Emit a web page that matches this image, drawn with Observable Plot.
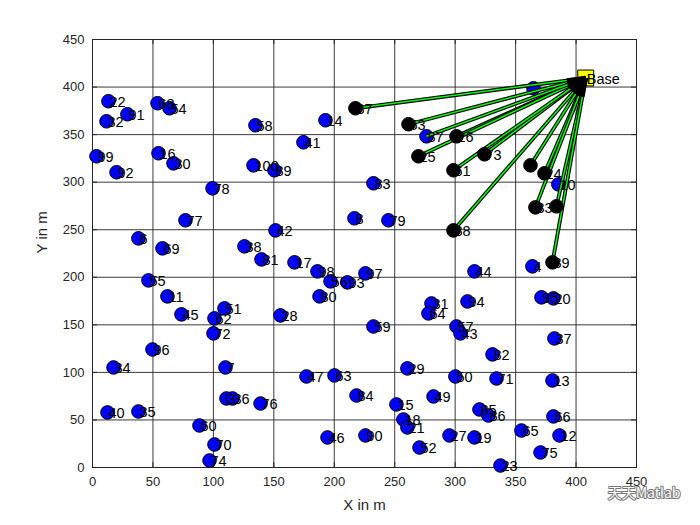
<!DOCTYPE html>
<html><head><meta charset="utf-8">
<script src="https://cdn.jsdelivr.net/npm/d3@7"></script>
<script src="https://cdn.jsdelivr.net/npm/@observablehq/plot@0.6"></script>
<style>html,body{margin:0;padding:0;background:#fff;overflow:hidden}</style>
</head><body><div id="chart"></div>
<script>
const xTicks = [0, 50, 100, 150, 200, 250, 300, 350, 400, 450];
const yTicks = [0, 50, 100, 150, 200, 250, 300, 350, 400, 450];
const xTitle = ["X in m"];
const yTitle = ["Y in m"];
const watermark = ["天天Matlab"];

// ordinary sensor nodes (blue)
const nodeLabel = ["22","32","91","68","54","99","92","16","30","78",
  "58","14","41","100","89","83","77","6","69","38",
  "42","8","79","81","17","98","56","93","97","80",
  "28","55","11","45","51","62","72","96","34","7",
  "3","36","76","40","35","60","70","74","47","63",
  "84","46","90","29","15","18","21","52","49","59",
  "31","64","94","44","4","57","43","82","50","71",
  "95","20","37","13","66","12","75","65","23","19",
  "27","85","86","10","","87"];
const nodeX = [13.2,11.6,28.9,53.8,63.7,3.3,19.9,54.6,67.0,99.3,
  134.8,192.7,174.5,133.2,150.5,232.4,76.9,38.0,57.9,125.7,
  151.4,216.7,244.8,139.8,167.1,186.1,196.9,210.9,225.8,187.8,
  155.5,46.3,62.0,73.6,109.2,100.9,100.1,49.6,17.4,110.0,
  110.8,115.8,139.0,12.4,38.0,88.5,100.9,96.8,177.0,200.2,
  218.4,194.4,225.8,260.5,251.4,257.2,260.5,270.5,282.1,232.4,
  280.4,277.9,310.2,316.0,363.9,301.1,304.4,330.9,300.2,334.2,
  371.4,381.3,382.1,380.5,381.3,386.3,370.6,354.8,337.5,316.0,
  295.3,320.1,327.5,385.4,364.8,276.3];
const nodeY = [385.1,364.0,371.4,383.0,377.7,327.2,310.4,330.4,319.8,293.5,
  359.8,365.1,341.9,317.7,312.5,298.8,259.9,240.9,230.4,232.5,
  249.3,262.0,259.9,218.8,215.7,206.2,195.7,194.6,204.1,179.9,
  159.9,196.7,179.9,161.0,167.3,156.8,141.0,124.1,105.2,105.2,
  72.6,72.6,67.3,57.9,58.9,44.2,24.2,7.4,95.7,96.8,
  75.7,31.6,33.7,104.2,66.3,50.5,42.1,21.0,74.7,148.3,
  172.5,162.0,174.6,206.2,211.5,148.3,141.0,118.9,95.7,93.6,
  178.9,177.8,135.7,91.5,53.7,33.7,15.8,38.9,2.1,31.6,
  33.7,61.0,54.7,297.7,398.7,348.2];
const linkedNodeLabels = ["87"];

// cluster heads (black)
const headLabel = ["37","53","26","25","73","61","88","","24","33","","39"];
const headX = [217.5,261.4,301.1,269.6,324.2,298.6,298.6,362.3,373.9,366.4,383.8,380.5];
const headY = [377.7,360.9,348.2,327.2,329.3,312.5,249.3,317.7,309.3,273.5,274.6,215.7];

// base station
const baseLabel = ["Base"];
const baseX = [408];
const baseY = [409.5];

const nodes = nodeX.map((x, i) => ({x, y: nodeY[i], label: nodeLabel[i]}));
const heads = headX.map((x, i) => ({x, y: headY[i], label: headLabel[i]}));
const base = baseX.map((x, i) => ({x, y: baseY[i], label: baseLabel[i]}));
const linkSources = heads.concat(nodes.filter(d => linkedNodeLabels.includes(d.label)));

const W = 700, H = 525, mL = 92, mR = 64, mT = 39, mB = 58;
const innerW = W - mL - mR, innerH = H - mT - mB;
const tickLen = 5;
const ink = "#262626";
const font = "Liberation Sans, Arial, Helvetica, sans-serif";

const linkMarks = linkSources.flatMap(s => [
  Plot.link([s], {x1: "x", y1: "y", x2: () => base[0].x, y2: () => base[0].y, stroke: "black", strokeWidth: 3.8}),
  Plot.link([s], {x1: "x", y1: "y", x2: () => base[0].x, y2: () => base[0].y, stroke: "#00ff00", strokeWidth: 1.5})
]);

// dark overlap of the thick outlines where all links converge on the base
const pxPerX = innerW / 450, pxPerY = innerH / 450, fanPx = 19;
const fan = linkSources.map(s => {
  const b = base[0];
  const len = Math.hypot((s.x - b.x) * pxPerX, (s.y - b.y) * pxPerY);
  const t = fanPx / len;
  return {x1: b.x, y1: b.y, x2: b.x + t * (s.x - b.x), y2: b.y + t * (s.y - b.y)};
});

const chart = Plot.plot({
  width: W, height: H,
  marginLeft: mL, marginRight: mR, marginTop: mT, marginBottom: mB,
  style: {fontFamily: font, fontSize: "13px", background: "white", overflow: "visible"},
  x: {domain: [0, 450], label: null},
  y: {domain: [0, 450], label: null},
  marks: [
    Plot.gridX(xTicks, {stroke: ink, strokeOpacity: 0.9, strokeWidth: 1}),
    Plot.gridY(yTicks, {stroke: ink, strokeOpacity: 0.9, strokeWidth: 1}),
    Plot.tickX(xTicks, {x: d => d, stroke: ink, insetTop: innerH - tickLen}),
    Plot.tickX(xTicks, {x: d => d, stroke: ink, insetBottom: innerH - tickLen}),
    Plot.tickY(yTicks, {y: d => d, stroke: ink, insetRight: innerW - tickLen}),
    Plot.tickY(yTicks, {y: d => d, stroke: ink, insetLeft: innerW - tickLen}),
    Plot.frame({stroke: ink, strokeWidth: 1}),
    Plot.axisX(xTicks, {tickSize: 0, tickPadding: 9, fontSize: 13, fill: ink, label: null}),
    Plot.axisY(yTicks, {tickSize: 0, tickPadding: 8, fontSize: 13, fill: ink, label: null}),
    Plot.text(xTitle, {text: d => d, frameAnchor: "bottom", dy: 42, fontSize: 15, fill: ink}),
    Plot.text(yTitle, {text: d => d, frameAnchor: "left", dx: -50, rotate: -90, fontSize: 15, fill: ink}),
    Plot.dot(nodes, {x: "x", y: "y", r: 6.8, fill: "#0000ff", stroke: "black", strokeWidth: 1}),
    Plot.dot(base, {x: "x", y: "y", symbol: "square", r: 9, fill: "#ffff00", stroke: "black", strokeWidth: 1}),
    ...linkMarks,
    Plot.link(fan, {x1: "x1", y1: "y1", x2: "x2", y2: "y2", stroke: "black", strokeWidth: 4.5}),
    Plot.dot(heads, {x: "x", y: "y", r: 6.8, fill: "black", stroke: "black", strokeWidth: 1}),
    Plot.text(nodes.concat(heads), {x: "x", y: "y", text: "label", textAnchor: "start", dx: 1, dy: 1, fontSize: 14.5, fill: "black"}),
    Plot.text(base, {x: "x", y: "y", text: "label", textAnchor: "start", dx: 1, dy: 1, fontSize: 14.5, fill: "black"}),
    Plot.text(watermark, {text: d => d, frameAnchor: "bottom-right", textAnchor: "end", dx: 44, dy: 30, fontSize: 14, fontFamily: "Noto Sans CJK SC", fill: "white", stroke: "#777", strokeWidth: 2, paintOrder: "stroke"})
  ]
});
document.getElementById("chart").appendChild(chart);
</script>
</body></html>
